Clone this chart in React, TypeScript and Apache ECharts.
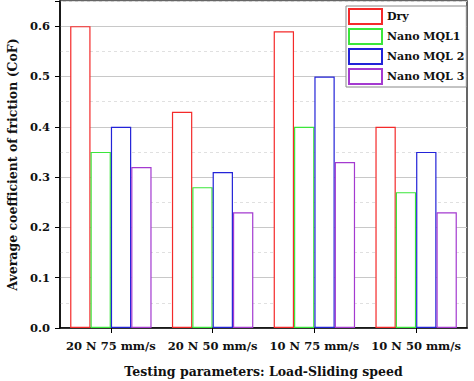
import React, { useEffect, useRef } from "react";
import * as echarts from "echarts";

const categories = ["20 N 75 mm/s", "20 N 50 mm/s", "10 N 75 mm/s", "10 N 50 mm/s"];
const seriesNames = ["Dry", "Nano MQL1", "Nano MQL 2", "Nano MQL 3"];
const dry = [0.6, 0.43, 0.59, 0.4];
const mql1 = [0.35, 0.28, 0.4, 0.27];
const mql2 = [0.4, 0.31, 0.5, 0.35];
const mql3 = [0.32, 0.23, 0.33, 0.23];
const colors = ["#f42a2a", "#3be63b", "#2323d8", "#a43ad0"];
const values = [dry, mql1, mql2, mql3];

const FONT = "DejaVu Serif";

export default function App() {
  const ref = useRef<HTMLDivElement>(null);
  useEffect(() => {
    const chart = echarts.init(ref.current!, null, { renderer: "svg" });
    chart.setOption({
      animation: false,
      grid: {
        left: 60,
        right: 7,
        top: 1,
        bottom: 53,
        show: true,
        outerBoundsMode: "none",
        containLabel: false,
        borderColor: "#333",
        borderWidth: 1.5,
        backgroundColor: "transparent",
      },
      legend: {
        data: seriesNames,
        orient: "vertical",
        left: 346,
        top: 6,
        itemWidth: 33,
        itemHeight: 15,
        itemGap: 3,
        padding: [2, 2, 2, 2],
        backgroundColor: "#fff",
        borderColor: "#888",
        borderWidth: 1,
        icon: "rect",
        textStyle: { fontFamily: FONT, fontWeight: "bold", fontSize: 11, color: "#111" },
      },
      xAxis: {
        type: "category",
        data: categories,
        axisLine: { lineStyle: { color: "#000", width: 1.5 } },
        axisTick: { show: true, alignWithLabel: true, length: 5, lineStyle: { color: "#000" } },
        axisLabel: { interval: 0, fontFamily: FONT, fontWeight: "bold", fontSize: 11.5, color: "#111", margin: 12 },
        name: "Testing parameters: Load-Sliding speed",
        nameLocation: "middle",
        nameGap: 37,
        nameTextStyle: { fontFamily: FONT, fontWeight: "bold", fontSize: 12.5, color: "#111" },
      },
      yAxis: {
        type: "value",
        min: 0,
        max: 0.65,
        interval: 0.1,
        axisLine: { show: true, lineStyle: { color: "#000", width: 1.5 } },
        axisTick: { show: true, length: 5, lineStyle: { color: "#000" } },
        axisLabel: {
          fontFamily: FONT,
          fontWeight: "bold",
          fontSize: 11.5,
          color: "#111",
          margin: 10,
          formatter: (v: number) => (v > 0.62 ? "" : v.toFixed(1)),
        },
        splitLine: { show: true, lineStyle: { color: "#c8c8c8", width: 1 } },
        minorTick: { show: false, splitNumber: 2 },
        minorSplitLine: { show: true, lineStyle: { color: "#e0e0e0", type: [3, 3], width: 1 } },
        name: "Average coefficient of friction (CoF)",
        nameLocation: "middle",
        nameGap: 40,
        nameTextStyle: { fontFamily: FONT, fontWeight: "bold", fontSize: 12.5, color: "#111" },
      },
      series: seriesNames.map((name, i) => ({
        name,
        type: "bar",
        data: values[i],
        barGap: "0%",
        barCategoryGap: "20%",
        itemStyle: { color: "#fff", borderColor: colors[i], borderWidth: 1.2 },
      })),
    });
    return () => chart.dispose();
  }, []);
  return <div ref={ref} style={{ width: 474, height: 381, position: "absolute", left: 0, top: 0 }} />;
}
